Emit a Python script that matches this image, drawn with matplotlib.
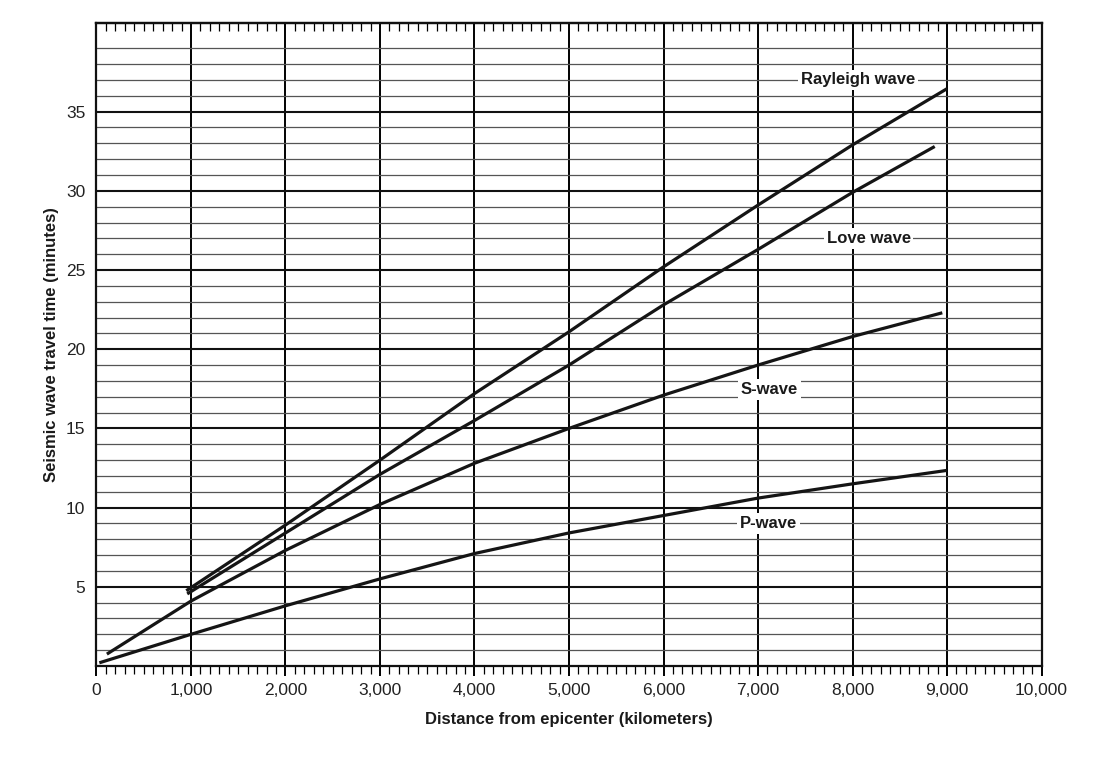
import numpy as np
import matplotlib
matplotlib.use('Agg')
import matplotlib.pyplot as plt
from matplotlib.ticker import MultipleLocator, FixedLocator, FuncFormatter

plt.rcParams['font.family'] = ['Liberation Sans', 'DejaVu Sans']

# travel time curves (distance in km, time in minutes)
p_km = [30, 1000, 2000, 3000, 4000, 5000, 6000, 7000, 8000, 9000]
p_min = [0.2, 2.0, 3.8, 5.5, 7.1, 8.4, 9.5, 10.6, 11.5, 12.35]

s_km = [110, 1000, 2000, 3000, 4000, 5000, 6000, 7000, 8000, 8950]
s_min = [0.75, 4.1, 7.3, 10.2, 12.8, 15.0, 17.1, 19.0, 20.8, 22.3]

love_km = [960, 2000, 3000, 4000, 5000, 6000, 7000, 8000, 8870]
love_min = [4.55, 8.4, 12.1, 15.5, 19.0, 22.8, 26.3, 29.9, 32.8]

rayleigh_km = [950, 2000, 3000, 4000, 5000, 6000, 7000, 8000, 9000]
rayleigh_min = [4.75, 8.9, 13.0, 17.2, 21.1, 25.2, 29.1, 32.9, 36.45]

# wave names and where their labels sit
wave_names = ['Rayleigh wave', 'Love wave', 'S-wave', 'P-wave']
label_km = [8060, 8170, 7120, 7110]
label_min = [37.0, 27.0, 17.45, 9.0]

# axis ticks
x_major = list(range(0, 10001, 1000))
y_major = [5, 10, 15, 20, 25, 30, 35]
y_minor = [m for m in range(1, 40) if m % 5 != 0]

fig = plt.figure(figsize=(11.04, 7.58), dpi=100)
ax = fig.add_axes([0.0874, 0.1214, 0.856, 0.8483])

ax.set_xlim(0, 10000)
ax.set_ylim(0, 40.6)

# grid: heavy every 5 min, light every minute, vertical every 1000 km
ax.yaxis.set_major_locator(FixedLocator(y_major))
ax.yaxis.set_minor_locator(FixedLocator(y_minor))
ax.xaxis.set_major_locator(FixedLocator(x_major))
ax.xaxis.set_minor_locator(MultipleLocator(100))
ax.grid(axis='y', which='major', color='#111111', linewidth=1.5, zorder=1)
ax.grid(axis='y', which='minor', color='#555555', linewidth=0.9, zorder=1)
ax.grid(axis='x', which='major', color='#000000', linewidth=1.4, zorder=1)
ax.set_axisbelow(True)

ax.xaxis.set_major_formatter(FuncFormatter(lambda v, pos: f'{int(v):,}'))
ax.tick_params(axis='x', which='major', direction='out', length=7, width=1.4,
               pad=5, labelsize=12.5, labelcolor='#222222')
ax.tick_params(axis='x', which='minor', direction='out', length=5.5, width=0.9)
ax.tick_params(axis='y', which='both', length=0, pad=8, labelsize=12.5,
               labelcolor='#222222')

# little ticks along the top edge, pointing inward
top = ax.secondary_xaxis('top')
top.xaxis.set_major_locator(FixedLocator(x_major))
top.xaxis.set_minor_locator(MultipleLocator(100))
top.tick_params(which='major', length=0, labeltop=False)
top.tick_params(which='minor', direction='in', length=5.5, width=0.9)
top.spines['top'].set_linewidth(1.6)

for side in ['left', 'right', 'bottom', 'top']:
    ax.spines[side].set_linewidth(1.6)
    ax.spines[side].set_color('#111111')

# the four curves
ax.plot(rayleigh_km, rayleigh_min, color='#151515', linewidth=2.3, zorder=3,
        solid_capstyle='butt')
ax.plot(love_km, love_min, color='#151515', linewidth=2.3, zorder=3,
        solid_capstyle='butt')
ax.plot(s_km, s_min, color='#151515', linewidth=2.3, zorder=3,
        solid_capstyle='butt')
ax.plot(p_km, p_min, color='#151515', linewidth=2.3, zorder=3,
        solid_capstyle='butt')

for name, lx, ly in zip(wave_names, label_km, label_min):
    ax.text(lx, ly, name, ha='center', va='center', fontsize=12,
            fontweight='bold', color='#1a1a1a', zorder=4,
            bbox=dict(facecolor='white', edgecolor='none', pad=2))

ax.set_xlabel('Distance from epicenter (kilometers)', fontsize=12,
              fontweight='bold', color='#1a1a1a', labelpad=10)
ax.set_ylabel('Seismic wave travel time (minutes)', fontsize=12,
              fontweight='bold', color='#1a1a1a', labelpad=5)

fig.savefig('out.png', dpi=100)
